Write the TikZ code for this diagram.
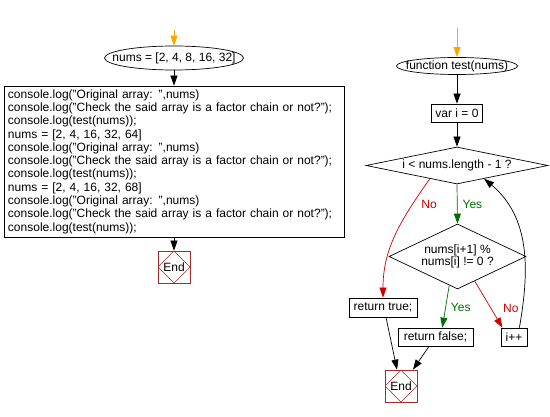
\documentclass[tikz,border=0pt]{standalone}
\usepackage{fontspec}
\setmainfont{Liberation Sans}
\usetikzlibrary{arrows.meta,shapes.geometric}
\definecolor{noc}{RGB}{204,0,0}
\definecolor{yesc}{RGB}{0,110,0}
\definecolor{endc}{RGB}{165,42,42}
\definecolor{startc}{RGB}{255,165,0}
\begin{document}
\begin{tikzpicture}[x=1pt,y=1pt, line width=0.7pt,
  font=\fontsize{12}{13.3}\selectfont,
  arr/.style={-{Triangle[length=10pt,width=7pt]}},
  box/.style={draw, rectangle, inner xsep=4pt, inner ysep=0pt, minimum height=19pt},
  oval/.style={draw, ellipse, inner sep=0pt},
  dia/.style={draw, diamond, inner sep=0pt, align=center},
  endbox/.style={draw=endc, rectangle, minimum size=32pt, inner sep=0pt,
    path picture={\draw[endc] (path picture bounding box.north) -- (path picture bounding box.east) -- (path picture bounding box.south) -- (path picture bounding box.west) -- cycle;}},
  lab/.style={inner sep=0pt, anchor=west}]
\useasboundingbox (0,0) rectangle (550,-417);

% left flow
\coordinate (s1in) at (174,-30);
\node[oval, minimum width=139pt, minimum height=24pt] (s1) at (174,-58) {\makebox[0pt]{nums = [2, 4, 8, 16, 32]}};
\node[draw, text width=332pt, inner xsep=4pt, minimum height=151pt, align=left] (code) at (174,-161.5) {console.log("Original array: ",nums)\\
console.log("Check the said array is a factor chain or not?");\\
console.log(test(nums));\\
nums = [2, 4, 16, 32, 64]\\
console.log("Original array: ",nums)\\
console.log("Check the said array is a factor chain or not?");\\
console.log(test(nums));\\
nums = [2, 4, 16, 32, 68]\\
console.log("Original array: ",nums)\\
console.log("Check the said array is a factor chain or not?");\\
console.log(test(nums));};
\node[endbox] (e1) at (174,-267) {End};

\draw[arr, startc] (s1in) -- (s1.north);
\draw[arr] (s1.south) -- (code.north);
\draw[arr] (code.south) -- (e1.north);

% right flow
\coordinate (fnin) at (457,-28);
\node[oval, minimum width=121pt, minimum height=17pt] (fn) at (457,-66) {\makebox[0pt]{function test(nums)}};
\node[box, minimum width=50pt, minimum height=18pt] (var) at (457,-113) {var i = 0};
\node[dia, aspect=4.9, minimum width=182pt, minimum height=37pt] (d1) at (457,-165.5) {i < nums.length - 1 ?};
\node[dia, aspect=2.1, minimum width=137pt, minimum height=65pt, font=\fontsize{12}{12.5}\selectfont] (d2) at (457.5,-256.5) {nums[i+1] \%\\nums[i] != 0 ?};
\node[box, minimum width=68pt] (rt) at (383,-307.5) {return true;};
\node[box, minimum width=75pt, minimum height=18pt] (rf) at (435.5,-337) {return false;};
\node[box, minimum width=26pt, minimum height=18pt, inner xsep=2pt] (ipp) at (514,-337) {i++};
\node[endbox] (e2) at (401,-386) {End};

\draw[arr, startc] (fnin) -- (fn.north);
\draw[arr] (fn.south) -- (var.north);
\draw[arr] (var.south) -- (d1.north);
\draw[arr, yesc] (d1.south) -- (d2.north) node[lab, text=yesc, pos=0.5, xshift=5pt] (y1) {Yes};
\draw[arr, noc] (d1.206) to[out=235, in=90] (rt.north);
\node[lab, text=noc] (n1) at (421,-204) {No};
\draw[arr, yesc] (d2.254) -- (rf.54) node[lab, text=yesc, pos=0.52, xshift=5pt] (y2) {Yes};
\draw[arr, noc] (d2.305) -- (ipp.141) node[lab, text=noc, pos=0.58, xshift=12pt] (n2) {No};
\draw[arr] (ipp.60) to[out=80, in=-40] (d1.-26);
\draw[arr] ([xshift=3pt]rt.south) -- ([xshift=-4pt]e2.north);
\draw[arr] ([xshift=-6.5pt]rf.south) -- ([xshift=12pt]e2.north);
\end{tikzpicture}
\end{document}
